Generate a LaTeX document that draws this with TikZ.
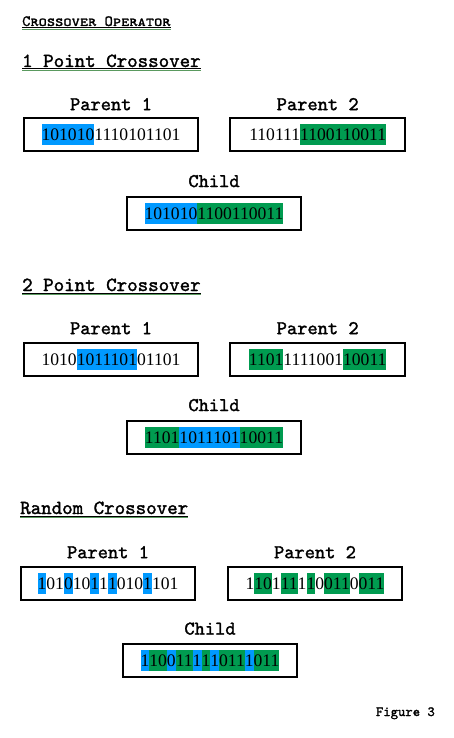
\documentclass[tikz,border=0pt]{standalone}
\usepackage{fontspec}
\usepackage{xcolor}
\usepackage{tikz}
\usetikzlibrary{positioning}
\newfontfamily\bitfont{Liberation Serif}
\newfontfamily\headfont[FakeBold=1.6]{lmmono10-regular.otf}
\newfontfamily\titlefont[FakeBold=1.2]{lmmonocaps10-regular.otf}
\definecolor{cbblue}{HTML}{0099FF}
\definecolor{cbgreen}{HTML}{009B50}
\definecolor{ulgreen}{HTML}{5A9A5F}
\newcommand{\hlb}[1]{{\setlength{\fboxsep}{0pt}\colorbox{cbblue}{\rule[-4.5pt]{0pt}{21pt}#1}}}
\newcommand{\hlg}[1]{{\setlength{\fboxsep}{0pt}\colorbox{cbgreen}{\rule[-4.5pt]{0pt}{21pt}#1}}}

\begin{document}
\begin{tikzpicture}[x=1pt, y=-1pt]
    \tikzset{chrom/.style={draw=black, line width=2pt, minimum width=174.6pt, minimum height=33pt,
                           inner sep=0pt, text height=16.5pt, text depth=4.5pt,
                           font=\bitfont\fontsize{17.6}{20}\selectfont},
             lbl/.style={inner sep=0pt, font=\headfont\fontsize{19.5}{22}\selectfont},
             sechead/.style={anchor=base west, inner sep=0pt, font=\headfont\fontsize{20}{22}\selectfont},
             uline/.style={line width=1pt},
             ulineg/.style={draw=ulgreen, line width=1pt}}
    \useasboundingbox (0,0) rectangle (454,738);
    \node[anchor=base west, inner sep=0pt, font=\titlefont\fontsize{15.7}{18}\selectfont]
        (title) at (22,26) {Crossover Operator};
    \draw[uline] ([yshift=-2pt]title.base west) -- ([yshift=-2pt]title.base east);
    \draw[ulineg] ([yshift=-3.5pt]title.base west) -- ([yshift=-3.5pt]title.base east);

    \node[sechead] (h1) at (22,67) {1 Point Crossover};
    \draw[uline] ([yshift=-2pt]h1.base west) -- ([yshift=-2pt]h1.base east);
    \draw[ulineg] ([yshift=-3.5pt]h1.base west) -- ([yshift=-3.5pt]h1.base east);
    \node[chrom] (p1a) at (111,135) {\hlb{101010}1110101101};
    \node[chrom] (p2a) at (317.7,135) {110111\hlg{1100110011}};
    \node[chrom] (ca) at (214,213) {\hlb{101010}\hlg{1100110011}};
    \node[lbl, above=7pt of p1a] (lp1a) {Parent 1};
    \node[lbl, above=7pt of p2a] (lp2a) {Parent 2};
    \node[lbl, above=8pt of ca] (lca) {Child};

    \node[sechead] (h2) at (22,291) {2 Point Crossover};
    \draw[uline] ([yshift=-2pt]h2.base west) -- ([yshift=-2pt]h2.base east);
    \draw[ulineg] ([yshift=-3.5pt]h2.base west) -- ([yshift=-3.5pt]h2.base east);
    \node[chrom] (p1b) at (111,359) {1010\hlb{1011101}01101};
    \node[chrom] (p2b) at (317.7,359) {\hlg{1101}1111001\hlg{10011}};
    \node[chrom] (cb) at (214,437) {\hlg{1101}\hlb{1011101}\hlg{10011}};
    \node[lbl, above=7pt of p1b] (lp1b) {Parent 1};
    \node[lbl, above=7pt of p2b] (lp2b) {Parent 2};
    \node[lbl, above=8pt of cb] (lcb) {Child};

    \node[sechead] (h3) at (20,514) {Random Crossover};
    \draw[uline] ([yshift=-2pt]h3.base west) -- ([yshift=-2pt]h3.base east);
    \draw[ulineg] ([yshift=-3.5pt]h3.base west) -- ([yshift=-3.5pt]h3.base east);
    \node[chrom] (p1c) at (108,583) {\hlb{1}01\hlb{0}10\hlb{1}1\hlb{1}010\hlb{1}101};
    \node[chrom] (p2c) at (315,583) {1\hlg{10}1\hlg{11}1\hlg{1}0\hlg{011}0\hlg{011}};
    \node[chrom] (cc) at (210,660.5) {\hlb{1}\hlg{10}\hlb{0}\hlg{11}\hlb{1}\hlg{1}\hlb{1}\hlg{011}\hlb{1}\hlg{011}};
    \node[lbl, above=7pt of p1c] (lp1c) {Parent 1};
    \node[lbl, above=7pt of p2c] (lp2c) {Parent 2};
    \node[lbl, above=8pt of cc] (lcc) {Child};

    \node[anchor=base east, inner sep=0pt, font=\headfont\fontsize{14}{16}\selectfont]
        (fig) at (435,716) {Figure 3};
  \end{tikzpicture}
\end{document}
